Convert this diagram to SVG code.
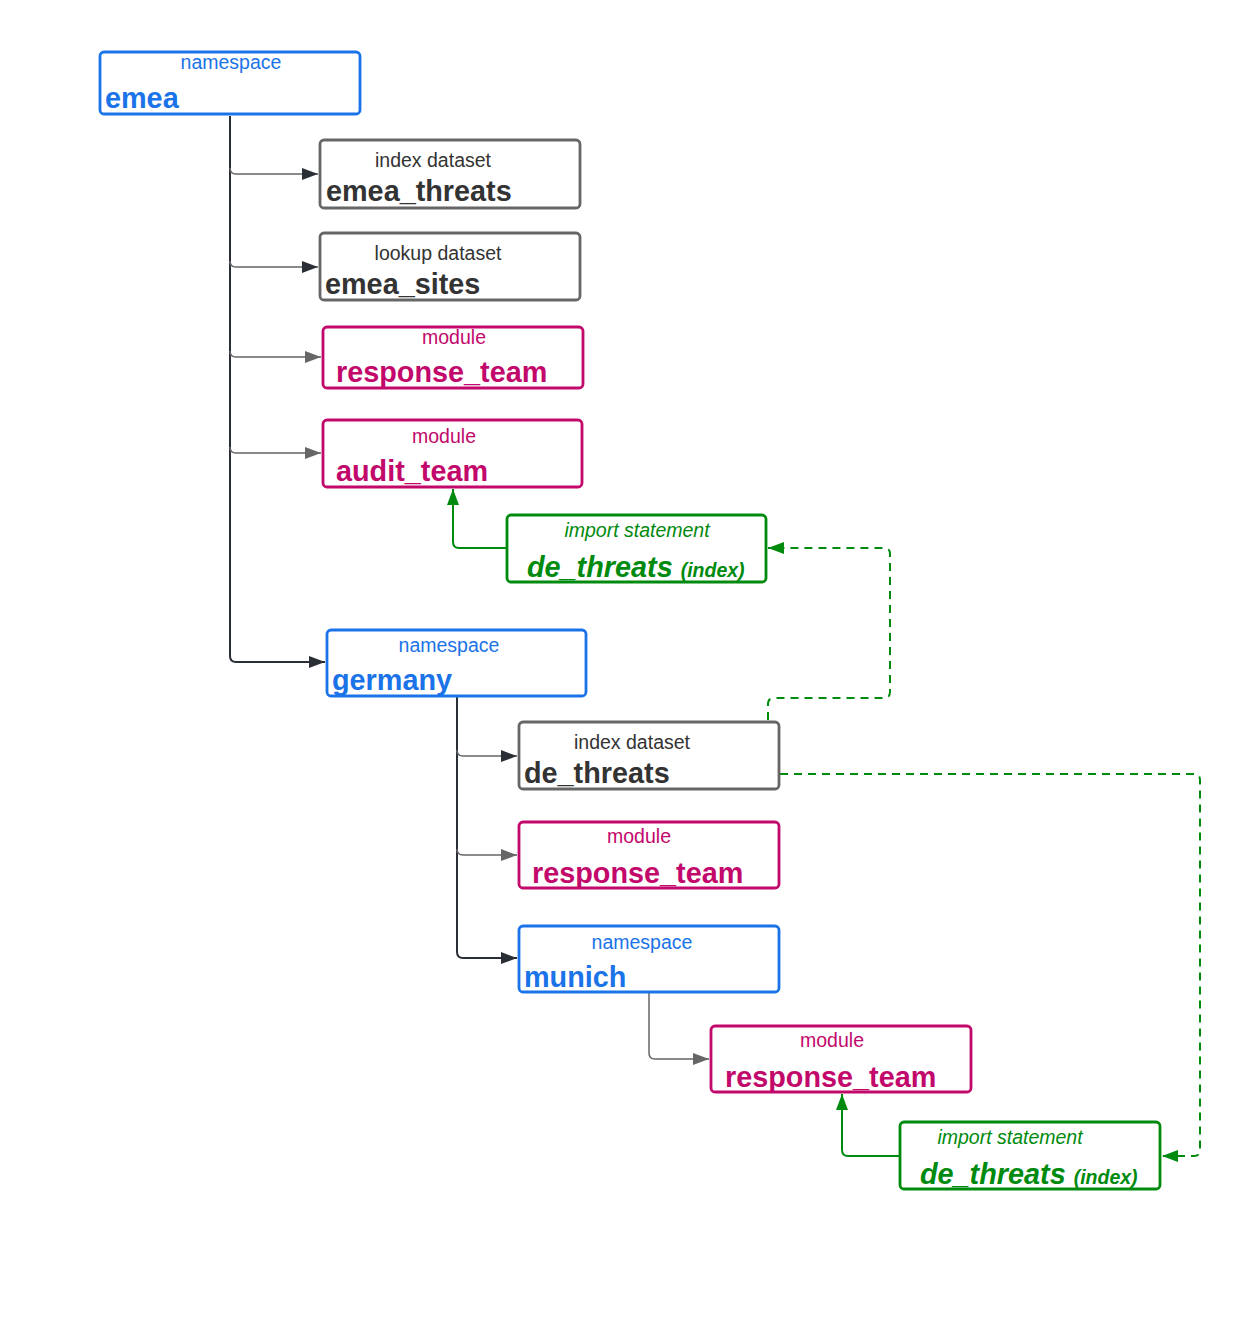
<svg xmlns="http://www.w3.org/2000/svg" width="1242" height="1328" viewBox="0 0 1242 1328">
<style>
.box{fill:#fff;stroke-width:2.8}
.ns{stroke:#1a73e8}
.ds{stroke:#666}
.md{stroke:#c2086b}
.im{stroke:#008a0e}
.lab{font-family:"Liberation Sans",Arial,sans-serif;font-size:19.5px;text-anchor:middle}
.big{font-family:"Liberation Sans",Arial,sans-serif;font-size:28.8px;font-weight:bold}
.cns{fill:#1a73e8}
.cds{fill:#333}
.cmd{fill:#c2086b}
.cim{fill:#008a0e}
.it{font-style:italic}
.idx{font-size:19.5px}
.c{fill:none}
.dark{stroke:#2a2f36;stroke-width:2}
.gray{stroke:#666;stroke-width:1.5}
.grn{stroke:#008a0e;stroke-width:2}
.dash{stroke:#008a0e;stroke-width:2;stroke-dasharray:8,6}
</style>
<defs>
<marker id="aDark" markerUnits="userSpaceOnUse" markerWidth="17" markerHeight="13" refX="16" refY="6.5" orient="auto"><path d="M0,0.5 L16,6.5 L0,12.5 z" fill="#2a2f36"/></marker>
<marker id="aGray" markerUnits="userSpaceOnUse" markerWidth="17" markerHeight="13" refX="16" refY="6.5" orient="auto"><path d="M0,0.5 L16,6.5 L0,12.5 z" fill="#666"/></marker>
<marker id="aGreen" markerUnits="userSpaceOnUse" markerWidth="17" markerHeight="13" refX="16" refY="6.5" orient="auto"><path d="M0,0.5 L16,6.5 L0,12.5 z" fill="#008a0e"/></marker>
</defs>
<rect width="1242" height="1328" fill="#fff"/>
<g id="connectors">
<path class="c dark" d="M230,116 L230,656 Q230,662 236,662 L325,662" marker-end="url(#aDark)"/>
<path class="c gray" d="M230,168 Q230,174 236,174 L318,174" marker-end="url(#aDark)"/>
<path class="c gray" d="M230,261 Q230,267 236,267 L318,267" marker-end="url(#aDark)"/>
<path class="c gray" d="M230,351 Q230,357 236,357 L321,357" marker-end="url(#aGray)"/>
<path class="c gray" d="M230,447 Q230,453 236,453 L321,453" marker-end="url(#aGray)"/>
<path class="c grn" d="M507,548 L459,548 Q453,548 453,542 L453,489" marker-end="url(#aGreen)"/>
<path class="c dash" d="M768,720 L768,704 Q768,698 774,698 L884,698 Q890,698 890,692 L890,554 Q890,548 884,548 L768,548" marker-end="url(#aGreen)"/>
<path class="c dark" d="M457,697 L457,952 Q457,958 463,958 L517,958" marker-end="url(#aDark)"/>
<path class="c gray" d="M457,750 Q457,756 463,756 L517,756" marker-end="url(#aDark)"/>
<path class="c gray" d="M457,849 Q457,855 463,855 L517,855" marker-end="url(#aGray)"/>
<path class="c gray" d="M649,993 L649,1053 Q649,1059 655,1059 L709,1059" marker-end="url(#aGray)"/>
<path class="c grn" d="M900,1156 L848,1156 Q842,1156 842,1150 L842,1094" marker-end="url(#aGreen)"/>
<path class="c dash" d="M780,774 L1194,774 Q1200,774 1200,780 L1200,1150 Q1200,1156 1194,1156 L1162,1156" marker-end="url(#aGreen)"/>
</g>
<g id="emea">
<rect class="box ns" x="100" y="52" width="260" height="62" rx="4"/>
<text class="lab cns" x="231" y="69">namespace</text>
<text class="big cns" x="105" y="108">emea</text>
</g>
<g id="emea_threats">
<rect class="box ds" x="320" y="140" width="260" height="68" rx="4"/>
<text class="lab cds" x="433" y="167">index dataset</text>
<text class="big cds" x="326" y="201">emea_threats</text>
</g>
<g id="emea_sites">
<rect class="box ds" x="320" y="233" width="260" height="67" rx="4"/>
<text class="lab cds" x="438" y="260">lookup dataset</text>
<text class="big cds" x="325" y="294">emea_sites</text>
</g>
<g id="response_team_emea">
<rect class="box md" x="323" y="327" width="260" height="61" rx="4"/>
<text class="lab cmd" x="454" y="344">module</text>
<text class="big cmd" x="336" y="382">response_team</text>
</g>
<g id="audit_team">
<rect class="box md" x="323" y="420" width="259" height="67" rx="4"/>
<text class="lab cmd" x="444" y="443">module</text>
<text class="big cmd" x="336" y="481">audit_team</text>
</g>
<g id="import_de_threats_emea">
<rect class="box im" x="507" y="515" width="259" height="67" rx="4"/>
<text class="lab cim it" x="637" y="537">import statement</text>
<text class="big cim it" x="527" y="577">de_threats <tspan class="idx">(index)</tspan></text>
</g>
<g id="germany">
<rect class="box ns" x="327" y="630" width="259" height="66" rx="4"/>
<text class="lab cns" x="449" y="652">namespace</text>
<text class="big cns" x="332" y="690">germany</text>
</g>
<g id="de_threats">
<rect class="box ds" x="519" y="722" width="260" height="67" rx="4"/>
<text class="lab cds" x="632" y="749">index dataset</text>
<text class="big cds" x="524" y="783">de_threats</text>
</g>
<g id="response_team_germany">
<rect class="box md" x="519" y="822" width="260" height="66" rx="4"/>
<text class="lab cmd" x="639" y="843">module</text>
<text class="big cmd" x="532" y="883">response_team</text>
</g>
<g id="munich">
<rect class="box ns" x="519" y="926" width="260" height="66" rx="4"/>
<text class="lab cns" x="642" y="949">namespace</text>
<text class="big cns" x="524" y="987">munich</text>
</g>
<g id="response_team_munich">
<rect class="box md" x="711" y="1026" width="260" height="66" rx="4"/>
<text class="lab cmd" x="832" y="1047">module</text>
<text class="big cmd" x="725" y="1087">response_team</text>
</g>
<g id="import_de_threats_munich">
<rect class="box im" x="900" y="1122" width="260" height="67" rx="4"/>
<text class="lab cim it" x="1010" y="1144">import statement</text>
<text class="big cim it" x="920" y="1184">de_threats <tspan class="idx">(index)</tspan></text>
</g>
</svg>
